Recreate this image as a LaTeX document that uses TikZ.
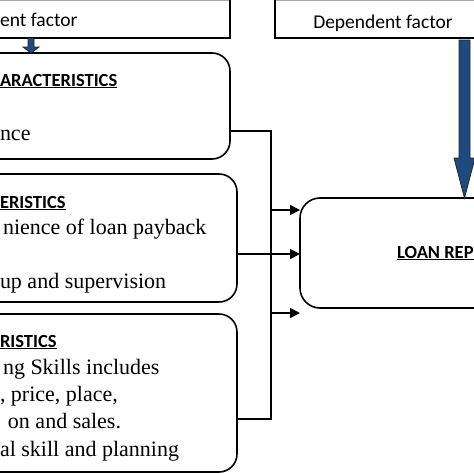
\documentclass[tikz,border=0pt]{standalone}
\usepackage{fontspec}
\setmainfont{Liberation Serif}
\newfontfamily\calfont{Carlito}
\usetikzlibrary{arrows.meta,calc}
\definecolor{arrowblue}{RGB}{31,74,126}
\tikzset{
  plainbox/.style={draw=black, line width=1.6pt, inner sep=0pt, outer sep=0pt, fill=white},
  roundbox/.style={plainbox, rounded corners=18pt},
  lbl/.style={inner sep=0pt, outer sep=0pt, anchor=base west},
  headtxt/.style={lbl, font=\calfont\bfseries\fontsize{18.5}{22}\selectfont},
  bodytxt/.style={lbl, font=\fontsize{22}{25}\selectfont},
  factortxt/.style={inner sep=0pt, font=\calfont\fontsize{19.5}{23}\selectfont},
  conn/.style={line width=1.6pt},
  arr/.style={conn, -{Triangle[length=10pt,width=10pt]}},
  blockarrow/.style={fill=arrowblue, draw=black!85, line width=0.8pt, line join=miter}
}
\begin{document}
\begin{tikzpicture}[x=1pt,y=-1pt]
\useasboundingbox (0,0) rectangle (474,474);
% top factor boxes
\node[plainbox, draw=black!35, minimum width=330pt, minimum height=38pt, anchor=south east] (indep) at (230,38) {};
\draw[line width=1.6pt] (indep.south west) -- (indep.south east) -- (indep.north east);
\node[plainbox, draw=black!35, minimum width=250pt, minimum height=38pt, anchor=south west] (dep) at (275,38) {};
\draw[line width=1.6pt] (dep.north west) -- (dep.south west) -- (dep.south east);
\node[factortxt, anchor=base west] (indeptxt) at (0,26) {ent factor};
\node[factortxt, anchor=base] (deptxt) at (383,28) {Dependent factor};
% characteristic boxes
\node[roundbox, minimum width=330pt, minimum height=106pt, anchor=north east] (b1) at (230,53) {};
\node[roundbox, minimum width=337pt, minimum height=128pt, anchor=north east] (b2) at (237,174) {};
\node[roundbox, minimum width=337pt, minimum height=158pt, anchor=north east] (b3) at (237,314) {};
% loan box
\node[roundbox, rounded corners=20pt, minimum width=260pt, minimum height=110pt, anchor=north west] (loan) at (300,198) {};
% texts
\node[headtxt] (h1) at (0,86) {\underline{ARACTERISTICS}};
\node[bodytxt] (t11) at (0,140) {nce};
\node[headtxt] (h2) at (0,208) {\underline{ERISTICS}};
\node[bodytxt] (t21) at (3,234) {nience of loan payback};
\node[bodytxt] (t22) at (0,288) {up and supervision};
\node[headtxt] (h3) at (0,347) {\underline{RISTICS}};
\node[bodytxt] (t31) at (3,374) {ng Skills includes};
\node[bodytxt] (t32) at (0,401) {, price, place,};
\node[bodytxt] (t33) at (8,428) {on and sales.};
\node[bodytxt] (t34) at (0,456) {al skill and planning};
\node[headtxt] (lt) at (397,258) {\underline{LOAN REP}};
% connectors
\coordinate (jt) at (271,131);
\coordinate (jb) at (271,419);
\coordinate (a1) at (271,210);
\coordinate (a2) at (237,254);
\coordinate (a3) at (271,313);
\draw[conn] (b1.east |- jt) -- (jt) -- (jb) -- (b3.east |- jb);
\draw[arr] (a1) -- (loan.west |- a1);
\draw[arr] (b2.east |- a2) -- (loan.west |- a2);
\draw[arr] (a3) -- (loan.west |- a3);
% blue block arrows
\coordinate (smS) at (indep.south -| 31,0);
\coordinate (smE) at (b1.north -| 31,0);
\draw[blockarrow] ($(smS)+(-3,0)$) -- ($(smS)+(3,0)$) -- ($(smE)+(3,-6)$) -- ($(smE)+(8,-6)$) -- (smE) -- ($(smE)+(-8,-6)$) -- ($(smE)+(-3,-6)$) -- cycle;
\coordinate (bigS) at (dep.south -| 464.5,0);
\coordinate (bigE) at (loan.north -| 464.5,0);
\draw[blockarrow] ($(bigS)+(-5.5,2)$) -- ($(bigS)+(5.5,2)$) -- ($(bigE)+(5.5,-40)$) -- ($(bigE)+(10.5,-40)$) -- (bigE) -- ($(bigE)+(-10.5,-40)$) -- ($(bigE)+(-5.5,-40)$) -- cycle;
\end{tikzpicture}
\end{document}
